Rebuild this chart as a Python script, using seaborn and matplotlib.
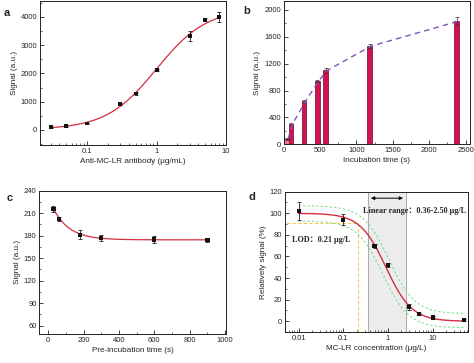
import numpy as np
import pandas as pd
import seaborn as sns
import matplotlib.pyplot as plt
from matplotlib.ticker import AutoMinorLocator, FixedLocator, FuncFormatter, LogLocator, NullFormatter

# panel a: antibody titration
ab_conc = [0.03, 0.05, 0.1, 0.3, 0.5, 1, 3, 5, 8]
ab_signal = [90, 140, 230, 920, 1290, 2120, 3320, 3900, 4010]
ab_err = [20, 20, 25, 50, 40, 40, 180, 60, 180]
ab_fit = dict(low=20, high=4300, x0=1.0, p=1.2)

# panel b: incubation time
inc_time = [60, 120, 300, 480, 600, 1200, 2400]
inc_signal = [80, 300, 640, 940, 1100, 1460, 1830]
inc_err = [10, 15, 25, 15, 40, 30, 60]

# panel c: pre-incubation time
pre_time = [30, 60, 180, 300, 600, 900]
pre_signal = [216, 202, 181, 177, 175, 174]
pre_err = [4, 3, 6, 4, 5, 3]
pre_fit = dict(y0=174.5, A=58, t=90)

# panel d: standard curve
mc_conc = [0.01, 0.1, 0.5, 1, 3, 5, 10, 50]
mc_signal = [102, 94, 70, 52, 13, 7, 3.5, 1.3]
mc_err = [8, 5, 2, 2, 3, 1, 1, 1]
mc_fit = dict(low=100, high=0, x0=0.9, p=1.5)
mc_upper = dict(low=107, high=7, x0=1.05, p=1.5)
mc_lower = dict(low=93, high=-6, x0=0.77, p=1.5)
lod = 0.21
lod_signal = 91
lin_lo, lin_hi = 0.36, 2.50

RED = "#d42f3f"
CRIMSON = "#d3124f"


def logistic(x, low, high, x0, p):
    # four-parameter logistic: 'low' is the asymptote at small x
    return high + (low - high) / (1 + (x / x0) ** p)


def style_axis(ax):
    for s in ax.spines.values():
        s.set_linewidth(0.7)
        s.set_color("#222222")
    ax.tick_params(which="major", direction="in", length=3, width=0.6, labelsize=5.5, pad=2)
    ax.tick_params(which="minor", direction="in", length=1.5, width=0.5)
    ax.xaxis.label.set_size(5.9)
    ax.yaxis.label.set_size(5.9)


sns.set_theme(style="ticks")
plt.rcParams["font.family"] = ["Liberation Sans", "DejaVu Sans"]

fig = plt.figure(figsize=(4.74, 3.63), dpi=100)
ax_a = fig.add_axes([0.0844, 0.6006, 0.3924, 0.3964])
ax_b = fig.add_axes([0.5985, 0.6025, 0.393, 0.3945])
ax_c = fig.add_axes([0.0829, 0.0799, 0.3939, 0.3948])
ax_d = fig.add_axes([0.6006, 0.0846, 0.3867, 0.3873])

# ---- a ----
xa = np.logspace(np.log10(ab_conc[0]), np.log10(ab_conc[-1]), 200)
ya = logistic(xa, **ab_fit)
sns.lineplot(x=xa, y=ya, ax=ax_a, color=RED, lw=0.9)
ax_a.errorbar(ab_conc, ab_signal, yerr=ab_err, fmt="none", ecolor="#222222", elinewidth=0.6, capsize=1.5, capthick=0.6)
sns.scatterplot(x=ab_conc, y=ab_signal, ax=ax_a, marker="s", s=8, color="#111111", edgecolor="none", zorder=5)
ax_a.set_xscale("log")
ax_a.set_xlim(0.021, 10)
ax_a.set_ylim(-530, 4560)
ax_a.yaxis.set_major_locator(FixedLocator([0, 1000, 2000, 3000, 4000]))
ax_a.yaxis.set_minor_locator(AutoMinorLocator(2))
ax_a.xaxis.set_major_formatter(FuncFormatter(lambda v, _: f"{v:g}"))
ax_a.xaxis.set_minor_locator(LogLocator(subs=np.arange(2, 10)))
ax_a.xaxis.set_minor_formatter(NullFormatter())
ax_a.set_xlabel("Anti-MC-LR antibody (μg/mL)", labelpad=2)
ax_a.set_ylabel("Signal (a.u.)", labelpad=2)
style_axis(ax_a)

# ---- b ----
bar_pos = [t - 20 for t in inc_time]
ax_b.bar(bar_pos, inc_signal, width=66, color=CRIMSON, edgecolor="#6a0a2a", linewidth=0.5, zorder=2)
ax_b.bar(bar_pos[0], inc_signal[0], width=66, color="#f07a94", edgecolor="#6a0a2a", linewidth=0.5, zorder=2)
ax_b.errorbar(bar_pos, inc_signal, yerr=inc_err, fmt="none", ecolor="#333333", elinewidth=0.5, capsize=1.2, capthick=0.5, zorder=3)
sns.lineplot(x=inc_time, y=inc_signal, ax=ax_b, color="#7c55b8", lw=1.0, linestyle=(0, (4, 3)), zorder=4)
ax_b.set_xlim(0, 2560)
ax_b.set_ylim(0, 2130)
ax_b.xaxis.set_major_locator(FixedLocator([0, 500, 1000, 1500, 2000, 2500]))
ax_b.yaxis.set_major_locator(FixedLocator([0, 400, 800, 1200, 1600, 2000]))
ax_b.xaxis.set_minor_locator(AutoMinorLocator(2))
ax_b.yaxis.set_minor_locator(AutoMinorLocator(2))
ax_b.set_xlabel("Incubation time (s)", labelpad=2)
ax_b.set_ylabel("Signal (a.u.)", labelpad=2)
style_axis(ax_b)

# ---- c ----
xc = np.linspace(pre_time[0], pre_time[-1], 200)
yc = pre_fit["y0"] + pre_fit["A"] * np.exp(-xc / pre_fit["t"])
sns.lineplot(x=xc, y=yc, ax=ax_c, color=RED, lw=0.9)
ax_c.errorbar(pre_time, pre_signal, yerr=pre_err, fmt="none", ecolor="#222222", elinewidth=0.6, capsize=1.5, capthick=0.6)
sns.scatterplot(x=pre_time, y=pre_signal, ax=ax_c, marker="s", s=9, color="#111111", edgecolor="none", zorder=5)
ax_c.set_xlim(-50, 1005)
ax_c.set_ylim(49, 240)
ax_c.xaxis.set_major_locator(FixedLocator([0, 200, 400, 600, 800, 1000]))
ax_c.yaxis.set_major_locator(FixedLocator([60, 90, 120, 150, 180, 210, 240]))
ax_c.xaxis.set_minor_locator(AutoMinorLocator(2))
ax_c.yaxis.set_minor_locator(AutoMinorLocator(2))
ax_c.set_xlabel("Pre-incubation time (s)", labelpad=2)
ax_c.set_ylabel("Signal (a.u.)", labelpad=2)
style_axis(ax_c)

# ---- d ----
ax_d.axvspan(lin_lo, lin_hi, color="#ececec", zorder=0)
ax_d.axvline(lin_lo, color="#aaaaaa", lw=0.7, zorder=1)
ax_d.axvline(lin_hi, color="#aaaaaa", lw=0.7, zorder=1)
ax_d.plot([0.004, lod], [lod_signal, lod_signal], color="#f2c94c", lw=0.8, linestyle=(0, (3, 2)), zorder=1)
ax_d.plot([lod, lod], [-20, lod_signal], color="#f2c94c", lw=0.8, linestyle=(0, (3, 2)), zorder=1)
xd = np.logspace(np.log10(mc_conc[0]), np.log10(mc_conc[-1]), 200)
for band in (mc_upper, mc_lower):
    sns.lineplot(x=xd, y=logistic(xd, **band), ax=ax_d, color="#7ee08e", lw=0.8, linestyle=(0, (2, 2)), zorder=2)
sns.lineplot(x=xd, y=logistic(xd, **mc_fit), ax=ax_d, color=RED, lw=1.0, zorder=3)
ax_d.errorbar(mc_conc, mc_signal, yerr=mc_err, fmt="none", ecolor="#222222", elinewidth=0.6, capsize=1.5, capthick=0.6, zorder=4)
sns.scatterplot(x=mc_conc, y=mc_signal, ax=ax_d, marker="s", s=9, color="#111111", edgecolor="none", zorder=5)
ax_d.annotate("", xy=(lin_lo, 114), xytext=(lin_hi, 114),
              arrowprops=dict(arrowstyle="<|-|>", color="black", lw=0.7, mutation_scale=5))
serif = ["Liberation Serif", "Noto Sans CJK SC"]
ax_d.text(0.28, 102, "Linear range：0.36-2.50 μg/L", fontsize=5.9, fontweight="bold", family=serif, va="center")
ax_d.text(0.0072, 75, "LOD：0.21 μg/L", fontsize=5.9, fontweight="bold", family=serif, va="center")
ax_d.set_xscale("log")
ax_d.set_xlim(0.00487, 61.6)
ax_d.set_ylim(-10.2, 120)
ax_d.yaxis.set_major_locator(FixedLocator([0, 20, 40, 60, 80, 100, 120]))
ax_d.yaxis.set_minor_locator(AutoMinorLocator(2))
ax_d.xaxis.set_major_locator(FixedLocator([0.01, 0.1, 1, 10]))
ax_d.xaxis.set_major_formatter(FuncFormatter(lambda v, _: f"{v:g}"))
ax_d.xaxis.set_minor_locator(LogLocator(subs=np.arange(2, 10)))
ax_d.xaxis.set_minor_formatter(NullFormatter())
ax_d.set_xlabel("MC-LR concentration (μg/L)", labelpad=2)
ax_d.set_ylabel("Relatively signal (%)", labelpad=2)
style_axis(ax_d)

# panel letters
for label, x, y in [("a", 0.008, 0.965), ("b", 0.513, 0.97), ("c", 0.015, 0.455), ("d", 0.525, 0.458)]:
    fig.text(x, y, label, fontsize=8, fontweight="bold", va="center")

fig.savefig("out.png", dpi=100)
